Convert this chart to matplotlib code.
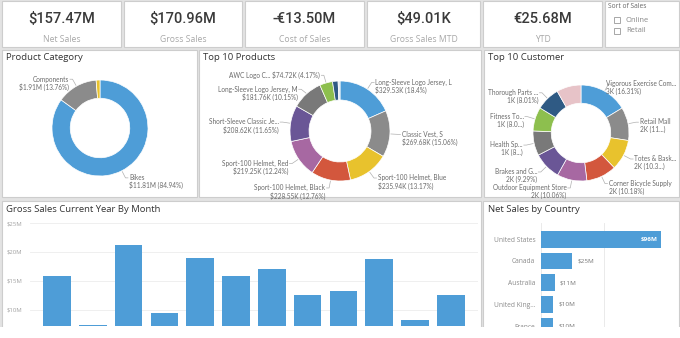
import numpy as np
import matplotlib.pyplot as plt
from matplotlib.patches import Rectangle

W, H = 680, 338
plt.rcParams['font.family'] = ['Open Sans', 'DejaVu Sans']

# KPI cards
kpi_values = ["$157.47M", "$170.96M", "-€13.50M", "$49.01K", "€25.68M"]
kpi_names = ["Net Sales", "Gross Sales", "Cost of Sales", "Gross Sales MTD", "YTD"]

# Product Category ($M)
cat_sales = [11.81, 1.91, 0.18]
cat_labels = ["Bikes\n$11.81M (84.94%)", "Components\n$1.91M (13.76%)", None]

# Top 10 Products ($K)
prod_sales = [329.53, 269.68, 235.94, 228.55, 219.25, 208.62, 181.76, 74.72, 32.0, 11.0]
prod_labels = ["Long-Sleeve Logo Jersey, L\n$329.53K (18.4%)",
               "Classic Vest, S\n$269.68K (15.06%)",
               "Sport-100 Helmet, Blue\n$235.94K (13.17%)",
               "Sport-100 Helmet, Black\n$228.55K (12.76%)",
               "Sport-100 Helmet, Red\n$219.25K (12.24%)",
               "Short-Sleeve Classic Je...\n$208.62K (11.65%)",
               "Long-Sleeve Logo Jersey, M\n$181.76K (10.15%)",
               "AWC Logo C... $74.72K (4.17%)", None, None]

# Top 10 Customer (% of total)
cust_pct = [16.31, 11.2, 10.35, 10.18, 10.06, 9.29, 8.3, 8.05, 8.01, 8.25]
cust_labels = ["Vigorous Exercise Com...\n3K (16.31%)", "Retail Mall\n2K (11...)",
               "Totes & Bask...\n2K (10.3...)", "Corner Bicycle Supply\n2K (10.18%)",
               "Outdoor Equipment Store\n2K (10.06%)", "Brakes and G...\n2K (9.29%)",
               "Health Sp...\n1K (8...)", "Fitness To...\n1K (8.0...)",
               "Thorough Parts ...\n1K (8.01%)", None]

# Gross sales by month ($M)
months = np.arange(12)
gross_month = [15.8, 7.4, 21.2, 9.5, 19.0, 15.9, 17.1, 12.5, 13.3, 18.85, 8.2, 12.5]

# Net sales by country ($M)
countries = ["United States", "Canada", "Australia", "United King...", "France"]
country_sales = [96, 25, 11, 10, 10]

blue, gray, yellow, red = '#4e9dd7', '#8b8b8b', '#e8c22d', '#d3573d'
mauve, purple, gray2, green, navy = '#a768a2', '#6a5696', '#797979', '#8dbf4e', '#2f5a84'
pal = [blue, gray, yellow, red, mauve, purple, gray2, green, navy]

fig = plt.figure(figsize=(W / 100, H / 100), dpi=100)
fig.patch.set_facecolor('#e3e3e3')
bg = fig.add_axes([0, 0, 1, 1])
bg.set_xlim(0, W)
bg.set_ylim(H, 0)
bg.axis('off')


def panel(x0, y0, x1, y1):
    bg.add_patch(Rectangle((x0, y0), x1 - x0, y1 - y0, facecolor='white',
                           edgecolor='#cdcdcd', lw=0.8))


# KPI cards
cards = [(2, 121), (124, 242), (245, 364), (367, 480), (483, 602)]
for (x0, x1), v, n in zip(cards, kpi_values, kpi_names):
    panel(x0, 1, x1, 47)
    cxk = (x0 + x1) / 2
    bg.text(cxk, 19, v, ha='center', va='center', fontsize=10.5, color='#3a3a3a',
            family=['Roboto', 'DejaVu Sans'], fontweight='medium')
    bg.text(cxk, 39, n, ha='center', va='center', fontsize=6.2, color='#a8a8a8')

# slicer
panel(605, 1, 679, 47)
bg.text(608, 6, "Sort of Sales", ha='left', va='center', fontsize=4.8, color='#666666')
for yy, t in [(20, "Online"), (31, "Retail")]:
    bg.add_patch(Rectangle((614, yy - 2.8), 5.6, 5.6, facecolor='white',
                           edgecolor='#999999', lw=0.6))
    bg.text(626, yy, t, ha='left', va='center', fontsize=5.5, color='#888888')

# row 2 and row 3 panels
panel(2, 50, 197, 197)
panel(199, 50, 481, 197)
panel(484, 50, 679, 197)
panel(2, 201, 481, 345)
panel(483, 201, 679, 345)

titles = [(6, 58, "Product Category"), (203, 58, "Top 10 Products"),
          (488, 58, "Top 10 Customer"), (6, 210, "Gross Sales Current Year By Month"),
          (488, 210, "Net Sales by Country")]
for x, y, t in titles:
    bg.text(x, y, t, ha='left', va='center', fontsize=6.8, color='#333333')

renderer = fig.canvas.get_renderer()


def donut(cx, cy, r, values, colors, labels, xmax):
    bg.pie(values, colors=colors, center=(cx, cy), radius=r, startangle=-90,
           counterclock=True, frame=True,
           wedgeprops=dict(width=r * 0.38, edgecolor='white', linewidth=0.5))
    bg.set_xlim(0, W)
    bg.set_ylim(H, 0)
    fr = np.array(values) / np.sum(values)
    mids = (np.cumsum(fr) - fr / 2) * 2 * np.pi
    items = []
    for th, lab in zip(mids, labels):
        if lab is None:
            continue
        side = 1 if np.sin(th) >= 0 else -1
        items.append([side, th, cx + (r + 8) * np.sin(th), cy - (r + 8) * np.cos(th), lab])
    for s in (1, -1):
        grp = sorted([it for it in items if it[0] == s], key=lambda it: it[3])
        for a, b in zip(grp, grp[1:]):
            if b[3] - a[3] < 14:
                b[3] = a[3] + 14
    for side, th, ex, ey, lab in items:
        sx, sy = cx + (r + 1) * np.sin(th), cy - (r + 1) * np.cos(th)
        tx = ex + side * 2.5
        bg.plot([sx, ex, tx], [sy, ey, ey], color='#b0b0b0', lw=0.5)
        t = bg.text(tx + side * 1.2, ey - 3.7, lab, ha='left' if side > 0 else 'right',
                    va='top', fontsize=4.7, color='#6a6a6a', linespacing=1.1,
                    family=['Lato', 'DejaVu Sans'])
        # keep the label inside its panel
        x1 = t.get_window_extent(renderer).x1
        if side > 0 and x1 > xmax:
            t.set_x(tx + 1.2 - (x1 - xmax))


donut(100, 128, 48, cat_sales, [blue, gray, yellow], cat_labels, 195)
donut(340, 131, 50, prod_sales, pal + ['#d9e6f2'], prod_labels, 478)
donut(581, 133, 48, cust_pct, pal + ['#e7c3c8'], cust_labels, 676)

# Gross sales by month
ax = fig.add_axes([30 / W, 1 - 326 / H, 448 / W, 107 / H])
ax.bar(months, gross_month, width=0.77, color=blue, zorder=2)
ax.set_xlim(-0.754, 11.76)
ax.set_ylim(7.24, 25.69)
ax.set_yticks([10, 15, 20, 25])
ax.set_yticklabels(["$10M", "$15M", "$20M", "$25M"])
ax.set_xticks([])
ax.tick_params(axis='y', length=0, pad=5.5, labelsize=4.3, labelcolor='#a0a0a0')
ax.grid(axis='y', color='#ececec', lw=0.6, zorder=0)
for sp in ax.spines.values():
    sp.set_visible(False)
ax.patch.set_alpha(0)

# Net sales by country
ax2 = fig.add_axes([540.7 / W, 0, 125.6 / W, 115 / H])
yy = np.arange(len(countries))
ax2.barh(yy, country_sales, height=0.77, color=blue, zorder=2)
ax2.set_xlim(0, 100)
ax2.set_ylim(4.55, -0.75)
ax2.set_xticks([0, 50, 100])
ax2.set_xticklabels([])
ax2.set_yticks(yy)
ax2.set_yticklabels(countries)
ax2.tick_params(length=0)
ax2.tick_params(axis='y', pad=4, labelsize=4.8, labelcolor='#8a8a8a')
ax2.grid(axis='x', color='#e6e6e6', lw=0.6, zorder=0)
for sp in ax2.spines.values():
    sp.set_visible(False)
ax2.patch.set_alpha(0)
for i, v in enumerate(country_sales):
    if v > 50:
        ax2.text(v - 3, i, f"${v}M", ha='right', va='center', fontsize=4.6,
                 color='white', fontweight='bold')
    else:
        ax2.text(v + 4, i, f"${v}M", ha='left', va='center', fontsize=4.6, color='#777777')

# screenshot is cut off below the charts
fig.patches.append(Rectangle((0, 0), 1, 11.5 / H, transform=fig.transFigure,
                             facecolor='white', edgecolor='none', zorder=10))

fig.savefig("out.png", dpi=100, facecolor=fig.get_facecolor())
